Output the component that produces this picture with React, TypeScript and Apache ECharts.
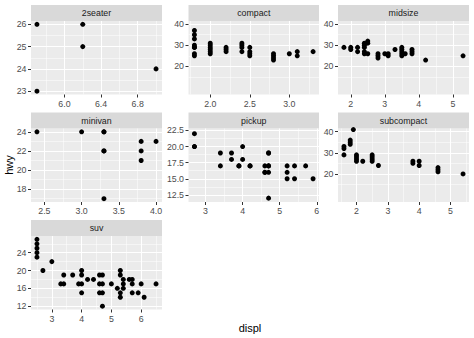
import React, { useEffect, useRef } from "react";
import * as echarts from "echarts";

// ---------- data (displ, hwy) per class ----------
const classes = ["2seater", "compact", "midsize", "minivan", "pickup", "subcompact", "suv"];

const x2seater = [5.7, 5.7, 6.2, 6.2, 7.0];
const y2seater = [26, 23, 26, 25, 24];

const xCompact = [1.8, 1.8, 1.8, 1.8, 1.8, 1.8, 1.8, 1.8, 2.0, 2.0, 2.0, 2.0, 2.0, 2.0, 2.2, 2.2, 2.2, 2.4, 2.4, 2.4, 2.4, 2.5, 2.5, 2.5, 2.5, 2.8, 2.8, 2.8, 2.8, 3.0, 3.1, 3.1, 3.3];
const yCompact = [37, 35, 33, 30, 29, 29, 26, 25, 31, 30, 29, 28, 27, 26, 29, 28, 27, 31, 30, 29, 27, 29, 27, 26, 25, 26, 25, 24, 23, 26, 27, 25, 27];

const xMidsize = [1.8, 2.0, 2.0, 2.2, 2.2, 2.4, 2.4, 2.4, 2.4, 2.4, 2.5, 2.5, 2.5, 2.8, 2.8, 2.8, 3.0, 3.1, 3.1, 3.3, 3.5, 3.5, 3.5, 3.5, 3.5, 3.6, 3.8, 3.8, 3.8, 4.2, 5.3];
const yMidsize = [29, 29, 28, 29, 27, 31, 30, 29, 27, 26, 32, 31, 26, 26, 25, 24, 26, 26, 25, 28, 29, 28, 27, 26, 25, 26, 28, 27, 26, 23, 25];

const xMinivan = [2.4, 3.0, 3.3, 3.3, 3.3, 3.3, 3.3, 3.8, 3.8, 3.8, 4.0];
const yMinivan = [24, 24, 22, 22, 24, 24, 17, 22, 21, 23, 23];

const xPickup = [2.7, 2.7, 2.7, 3.4, 3.4, 3.7, 3.7, 3.9, 3.9, 4.0, 4.0, 4.2, 4.2, 4.6, 4.6, 4.6, 4.7, 4.7, 4.7, 4.7, 4.7, 4.7, 5.2, 5.2, 5.2, 5.4, 5.4, 5.7, 5.9];
const yPickup = [20, 20, 22, 17, 19, 19, 18, 17, 17, 18, 20, 17, 17, 16, 16, 17, 19, 19, 12, 16, 17, 17, 17, 15, 16, 15, 17, 17, 15];

const xSubcompact = [1.6, 1.6, 1.6, 1.8, 1.8, 1.8, 1.9, 2.0, 2.0, 2.0, 2.0, 2.2, 2.5, 2.5, 2.5, 2.5, 2.7, 3.8, 3.8, 4.0, 4.0, 4.6, 4.6, 4.6, 5.4];
const ySubcompact = [33, 32, 29, 36, 35, 34, 41, 29, 28, 27, 26, 26, 29, 28, 27, 26, 24, 26, 25, 26, 24, 23, 22, 21, 20];

const xSuv = [2.5, 2.5, 2.5, 2.5, 2.5, 2.7, 3.0, 3.3, 3.4, 3.4, 3.7, 3.9, 4.0, 4.0, 4.0, 4.0, 4.2, 4.4, 4.6, 4.6, 4.6, 4.7, 4.7, 4.7, 4.7, 5.0, 5.2, 5.3, 5.3, 5.3, 5.3, 5.4, 5.4, 5.4, 5.6, 5.7, 5.7, 5.7, 5.9, 6.0, 6.1, 6.5];
const ySuv = [27, 26, 25, 24, 23, 20, 22, 17, 19, 17, 19, 17, 20, 19, 17, 15, 18, 18, 19, 17, 15, 19, 17, 15, 12, 17, 16, 20, 19, 15, 14, 18, 17, 16, 18, 18, 17, 15, 15, 17, 14, 17];

// ---------- axis ticks per panel ----------
const xTicks2seater = [6.0, 6.4, 6.8];
const xMinor2seater = [5.8, 6.2, 6.6, 7.0];
const yTicks2seater = [23, 24, 25, 26];
const yMinor2seater = [23.5, 24.5, 25.5];

const xTicksCompact = [2.0, 2.5, 3.0];
const xMinorCompact = [1.75, 2.25, 2.75, 3.25];
const yTicksWide = [20, 30, 40];
const yMinorWide = [15, 25, 35];

const xTicksMidsize = [2, 3, 4, 5];
const xMinorMidsize = [2.5, 3.5, 4.5];

const xTicksMinivan = [2.5, 3.0, 3.5, 4.0];
const xMinorMinivan = [2.75, 3.25, 3.75];
const yTicksMinivan = [18, 20, 22, 24];
const yMinorMinivan = [17, 19, 21, 23];

const xTicksPickup = [3, 4, 5, 6];
const xMinorPickup = [3.5, 4.5, 5.5];
const yTicksPickup = [12.5, 15.0, 17.5, 20.0, 22.5];
const yMinorPickup = [13.75, 16.25, 18.75, 21.25];

const xTicksSubcompact = [2, 3, 4, 5];
const xMinorSubcompact = [1.5, 2.5, 3.5, 4.5, 5.5];

const xTicksSuv = [3, 4, 5, 6];
const xMinorSuv = [2.5, 3.5, 4.5, 5.5, 6.5];
const yTicksSuv = [12, 16, 20, 24];
const yMinorSuv = [14, 18, 22, 26];

// ---------- layout ----------
const COLS = [
  { left: 31, width: 131 },
  { left: 188.5, width: 130.5 },
  { left: 338, width: 131 },
];
const ROW_TOPS = [21, 128.5, 236];
const PANEL_H = 73.5;
const STRIP_H = 16;
const FONT = "'Liberation Sans', Arial, Helvetica, sans-serif";

const specs = [
  { xs: x2seater, ys: y2seater, xr: [5.635, 7.065], yr: [22.85, 26.15], xt: xTicks2seater, xm: xMinor2seater, yt: yTicks2seater, ym: yMinor2seater, xd: 1, yd: 0 },
  { xs: xCompact, ys: yCompact, xr: [1.725, 3.375], yr: [6.7, 41.5], xt: xTicksCompact, xm: xMinorCompact, yt: yTicksWide, ym: yMinorWide, xd: 1, yd: 0 },
  { xs: xMidsize, ys: yMidsize, xr: [1.625, 5.475], yr: [6.7, 41.5], xt: xTicksMidsize, xm: xMinorMidsize, yt: yTicksWide, ym: yMinorWide, xd: 0, yd: 0 },
  { xs: xMinivan, ys: yMinivan, xr: [2.32, 4.08], yr: [16.65, 24.35], xt: xTicksMinivan, xm: xMinorMinivan, yt: yTicksMinivan, ym: yMinorMinivan, xd: 1, yd: 0 },
  { xs: xPickup, ys: yPickup, xr: [2.54, 6.06], yr: [11.4, 22.8], xt: xTicksPickup, xm: xMinorPickup, yt: yTicksPickup, ym: yMinorPickup, xd: 0, yd: 1 },
  { xs: xSubcompact, ys: ySubcompact, xr: [1.41, 5.59], yr: [6.7, 41.5], xt: xTicksSubcompact, xm: xMinorSubcompact, yt: yTicksWide, ym: yMinorWide, xd: 0, yd: 0 },
  { xs: xSuv, ys: ySuv, xr: [2.3, 6.7], yr: [11.25, 27.75], xt: xTicksSuv, xm: xMinorSuv, yt: yTicksSuv, ym: yMinorSuv, xd: 0, yd: 0 },
];

function buildOption() {
  const grid: any[] = [];
  const xAxis: any[] = [];
  const yAxis: any[] = [];
  const series: any[] = [];
  const graphic: any[] = [];

  specs.forEach((s, i) => {
    const row = Math.floor(i / 3);
    const col = i % 3;
    const left = COLS[col].left;
    const width = COLS[col].width;
    const top = ROW_TOPS[row];
    grid.push({
      left,
      top,
      width,
      height: PANEL_H,
      show: true,
      backgroundColor: "#EBEBEB",
      borderWidth: 0,
      containLabel: false,
      outerBoundsMode: "none",
    });
    const tickStyle = { show: true, length: 3, lineStyle: { color: "#333333", width: 1 } };
    const labelStyle = { show: true, margin: 4.5, color: "#4D4D4D", fontSize: 8.8, fontFamily: FONT };
    // main x
    xAxis.push({
      type: "value",
      gridIndex: i,
      position: "bottom",
      min: s.xr[0],
      max: s.xr[1],
      axisLine: { show: false },
      axisTick: { ...tickStyle, customValues: s.xt },
      axisLabel: { ...labelStyle, customValues: s.xt, formatter: (v: number) => v.toFixed(s.xd) },
      splitLine: { show: true, lineStyle: { color: "#FFFFFF", width: 1.1 } },
    });
    // minor x
    xAxis.push({
      type: "value",
      gridIndex: i,
      position: "top",
      min: s.xr[0],
      max: s.xr[1],
      axisLine: { show: false },
      axisTick: { show: false, customValues: s.xm },
      axisLabel: { show: false },
      splitLine: { show: true, lineStyle: { color: "#FFFFFF", width: 0.5 } },
    });
    // main y
    yAxis.push({
      type: "value",
      gridIndex: i,
      position: "left",
      min: s.yr[0],
      max: s.yr[1],
      axisLine: { show: false },
      axisTick: { ...tickStyle, customValues: s.yt },
      axisLabel: { ...labelStyle, customValues: s.yt, formatter: (v: number) => v.toFixed(s.yd) },
      splitLine: { show: true, lineStyle: { color: "#FFFFFF", width: 1.1 } },
    });
    // minor y
    yAxis.push({
      type: "value",
      gridIndex: i,
      position: "right",
      min: s.yr[0],
      max: s.yr[1],
      axisLine: { show: false },
      axisTick: { show: false, customValues: s.ym },
      axisLabel: { show: false },
      splitLine: { show: true, lineStyle: { color: "#FFFFFF", width: 0.5 } },
    });
    series.push({
      type: "scatter",
      xAxisIndex: 2 * i,
      yAxisIndex: 2 * i,
      data: s.xs.map((v, k) => [v, s.ys[k]]),
      symbolSize: 5,
      itemStyle: { color: "#000000", opacity: 1 },
      silent: true,
      clip: true,
    });
    graphic.push({
      type: "rect",
      shape: { x: left, y: top - STRIP_H, width, height: STRIP_H },
      style: { fill: "#D9D9D9" },
      silent: true,
    });
    graphic.push({
      type: "text",
      x: left + width / 2,
      y: top - STRIP_H / 2,
      style: {
        text: classes[i],
        fill: "#1A1A1A",
        fontSize: 8.8,
        fontFamily: FONT,
        align: "center",
        verticalAlign: "middle",
      },
      silent: true,
    });
  });

  graphic.push({
    type: "text",
    x: 250,
    y: 328,
    style: { text: "displ", fill: "#000000", fontSize: 11, fontFamily: FONT, align: "center", verticalAlign: "middle" },
    silent: true,
  });
  graphic.push({
    type: "text",
    x: 9,
    y: 165,
    rotation: Math.PI / 2,
    style: { text: "hwy", fill: "#000000", fontSize: 11, fontFamily: FONT, align: "center", verticalAlign: "middle" },
    silent: true,
  });

  return {
    animation: false,
    backgroundColor: "#FFFFFF",
    grid,
    xAxis,
    yAxis,
    series,
    graphic,
  };
}

export default function App() {
  const ref = useRef<HTMLDivElement>(null);
  useEffect(() => {
    if (!ref.current) return;
    const chart = echarts.init(ref.current, undefined, { renderer: "svg" });
    chart.setOption(buildOption() as any);
    return () => chart.dispose();
  }, []);
  return (
    <div
      ref={ref}
      style={{ position: "fixed", left: 0, top: 0, width: 474, height: 338, background: "#FFFFFF" }}
    />
  );
}
